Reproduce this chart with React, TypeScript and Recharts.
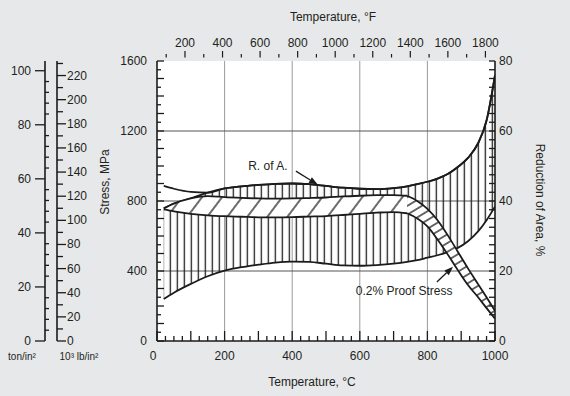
import React from "react";
import {
  ComposedChart, Area, Line, XAxis, YAxis, CartesianGrid, ReferenceLine, ReferenceDot,
} from "recharts";

// temperature, °C
const temps = [20, 50, 100, 150, 200, 250, 300, 350, 400, 450, 500, 550, 600, 650, 700, 740, 770, 800, 830, 860, 890, 920, 950, 975, 1000];
// 0.2% proof stress band, MPa
const proofHigh = [758, 785, 815, 828, 822, 818, 815, 814, 815, 817, 820, 826, 830, 833, 834, 830, 800, 755, 690, 605, 510, 415, 325, 250, 172];
const proofLow = [752, 741, 727, 718, 713, 710, 707, 707, 708, 711, 714, 720, 727, 733, 737, 730, 700, 655, 580, 495, 405, 320, 250, 188, 128];
// reduction of area band, %
const roaHigh = [44.3, 43.5, 42.6, 42.4, 43.6, 44.2, 44.6, 44.9, 45.0, 44.8, 44.3, 43.8, 43.5, 43.4, 43.7, 44.2, 44.8, 45.5, 46.4, 47.7, 49.7, 52.3, 56.5, 63.0, 76.0];
const roaLow = [12.0, 13.8, 16.3, 18.5, 20.1, 21.1, 21.8, 22.4, 22.7, 22.6, 22.1, 21.6, 21.5, 21.7, 22.1, 22.6, 23.1, 23.8, 24.5, 25.4, 26.6, 28.5, 31.3, 34.5, 38.4];

const LADDER_FROM = 740; // proof band hatching switches here
const ROA_CROSS = 150; // below this the R. of A. hatching stops at the proof band

const cLabels = [0, 200, 400, 600, 800, 1000];
const fLabels = [200, 400, 600, 800, 1000, 1200, 1400, 1600, 1800];
const mpaLabels = [0, 400, 800, 1200, 1600];
const pctLabels = [0, 20, 40, 60, 80];
const tonLabels = [0, 20, 40, 60, 80, 100];
const ksiLabels = [0, 20, 40, 60, 80, 100, 120, 140, 160, 180, 200, 220];

const cTicks = Array.from({ length: 41 }, (_, i) => i * 25);
const fTicks = Array.from({ length: 18 }, (_, i) => (i + 1) * 100);
const mpaTicks = Array.from({ length: 33 }, (_, i) => i * 50);
const pctTicks = Array.from({ length: 33 }, (_, i) => i * 2.5);
const tonTicks = Array.from({ length: 26 }, (_, i) => i * 4);
const ksiTicks = Array.from({ length: 24 }, (_, i) => i * 10);

const MPA_PER_PCT = 20; // 1600 MPa <-> 80 %
const MPA_PER_TSI = 15.444;
const MPA_PER_KSI = 6.895;

const data = temps.map((t, i) => ({
  t,
  f: (t * 9) / 5 + 32,
  roa: [roaLow[i], t < ROA_CROSS ? proofHigh[i] / MPA_PER_PCT : roaHigh[i]],
  roaLine: roaHigh[i],
  proofA: t <= LADDER_FROM ? [proofLow[i], proofHigh[i]] : null,
  proofB: t >= LADDER_FROM ? [proofLow[i], proofHigh[i]] : null,
}));

const INK = "#1b1b1b";
const FONT = '"Liberation Sans", Arial, sans-serif';
const txt = { fontFamily: FONT, fontSize: 12, fill: "#231f20" };

function CTick({ x, y, payload }: any) {
  const v = payload.value;
  const len = v % 100 === 0 ? 10 : 5;
  return (
    <g>
      <line x1={x} x2={x} y1={y} y2={y - len} stroke={INK} strokeWidth={1.3} />
      {cLabels.includes(v) && (
        <text x={v === 0 ? x - 4 : x} y={y + 18.5} textAnchor="middle" {...txt}>{v}</text>
      )}
    </g>
  );
}

function CTopTick({ x, y, payload }: any) {
  const len = payload.value % 100 === 0 ? 10 : 5;
  return <line x1={x} x2={x} y1={y} y2={y + len} stroke={INK} strokeWidth={1.3} />;
}

function FTick({ x, y, payload }: any) {
  const v = payload.value;
  const major = fLabels.includes(v);
  return (
    <g>
      <line x1={x} x2={x} y1={y - 3.5} y2={y - (major ? 10 : 7)} stroke={INK} strokeWidth={1.2} />
      {major && <text x={x} y={y - 14} textAnchor="middle" {...txt}>{v}</text>}
    </g>
  );
}

function MpaTick({ x, y, payload }: any) {
  const v = payload.value;
  const len = v % 100 === 0 ? 7 : 4;
  return (
    <g>
      <line x1={x} x2={x + len} y1={y} y2={y} stroke={INK} strokeWidth={1.3} />
      {mpaLabels.includes(v) && (
        <text x={x - 10} y={y} textAnchor="end" dominantBaseline="central" {...txt}>{v}</text>
      )}
    </g>
  );
}

function PctTick({ x, y, payload }: any) {
  const v = payload.value;
  return (
    <g>
      <line x1={x} x2={x - 6} y1={y} y2={y} stroke={INK} strokeWidth={1.3} />
      {pctLabels.includes(v) && (
        <text x={x + 4} y={y} textAnchor="start" dominantBaseline="central" {...txt}>{v}</text>
      )}
    </g>
  );
}

function TonTick({ x, y, payload }: any) {
  const v = payload.value;
  if (tonLabels.includes(v)) {
    return (
      <g>
        <line x1={x - 10} x2={x} y1={y} y2={y} stroke={INK} strokeWidth={1.3} />
        <text x={x - 14} y={y} textAnchor="end" dominantBaseline="central" {...txt}>{v}</text>
      </g>
    );
  }
  return <line x1={x} x2={x + 4} y1={y} y2={y} stroke={INK} strokeWidth={1.3} />;
}

function KsiTick({ x, y, payload }: any) {
  const v = payload.value;
  const major = ksiLabels.includes(v);
  return (
    <g>
      <line x1={x} x2={x + (major ? 9 : 6)} y1={y} y2={y} stroke={INK} strokeWidth={1.3} />
      {major && (
        <text x={x + 10} y={y} textAnchor="start" dominantBaseline="central" {...txt}>{v}</text>
      )}
    </g>
  );
}

function Arrow({ x1, y1, x2, y2 }: any) {
  const a = Math.atan2(y2 - y1, x2 - x1);
  const L = 9, W = 3.2;
  const bx = x2 - L * Math.cos(a), by = y2 - L * Math.sin(a);
  const px = -Math.sin(a) * W, py = Math.cos(a) * W;
  return (
    <g>
      <line x1={x1} y1={y1} x2={bx} y2={by} stroke={INK} strokeWidth={1.3} />
      <polygon points={`${x2},${y2} ${bx + px},${by + py} ${bx - px},${by - py}`} fill={INK} />
    </g>
  );
}

const roaNote = { x: 328, y: 1000, from: { x: 411, y: 971 }, to: { x: 476, y: 893 } };
const proofNote = { x: 731, y: 286, from: { x: 828, y: 337 }, to: { x: 876, y: 425 } };

export default function App() {
  return (
    <div style={{ width: 570, height: 396 }}>
      <style>{`body{margin:0;background:#e7e8ea}`}</style>
      <ComposedChart width={570} height={396} data={data} margin={{ top: 0, right: 0, bottom: 0, left: 0 }}>
        <defs>
          <pattern id="vhatch" patternUnits="userSpaceOnUse" x={5.8} width={7} height={10}>
            <line x1={3.5} x2={3.5} y1={0} y2={10} stroke={INK} strokeWidth={1.3} />
          </pattern>
          <pattern id="dhatch" patternUnits="userSpaceOnUse" width={16} height={16} patternTransform="rotate(37)">
            <rect width={16} height={16} fill="#fff" />
            <line x1={8} x2={8} y1={0} y2={16} stroke={INK} strokeWidth={1.3} />
          </pattern>
          <pattern id="ladder" patternUnits="userSpaceOnUse" width={7.5} height={10} patternTransform="rotate(59)">
            <rect width={7.5} height={10} fill="#fff" />
            <line x1={3.75} x2={3.75} y1={0} y2={10} stroke={INK} strokeWidth={1.3} />
          </pattern>
        </defs>

        <XAxis
          xAxisId="c" dataKey="t" type="number" domain={[0, 1000]} allowDataOverflow
          ticks={cTicks} interval={0} height={55} tickSize={0} tickMargin={0}
          axisLine={{ stroke: INK, strokeWidth: 1.6 }} tickLine={false} tick={CTick}
          label={{
            content: (p: any) => (
              <text x={p.viewBox.x + p.viewBox.width / 2 - 14} y={p.viewBox.y + 45} textAnchor="middle" {...txt}>
                Temperature, °C
              </text>
            ),
          }}
        />
        <XAxis
          xAxisId="ct" dataKey="t" orientation="top" type="number" domain={[0, 1000]} allowDataOverflow
          ticks={cTicks} interval={0} height={0} tickSize={0} tickMargin={0}
          axisLine={{ stroke: INK, strokeWidth: 1.6 }} tickLine={false} tick={CTopTick}
        />
        <XAxis
          xAxisId="f" dataKey="f" orientation="top" type="number" domain={[51, 1851]} allowDataOverflow
          ticks={fTicks} interval={0} height={61} tickSize={0} tickMargin={0}
          axisLine={false} tickLine={false} tick={FTick}
          label={{
            content: (p: any) => (
              <text x={p.viewBox.x + p.viewBox.width / 2 + 7} y={21} textAnchor="middle" {...txt}>
                Temperature, °F
              </text>
            ),
          }}
        />

        <YAxis
          yAxisId="y1mpa" type="number" domain={[0, 1600]} allowDataOverflow
          ticks={mpaTicks} interval={0} width={100} tickSize={0} tickMargin={0}
          axisLine={{ stroke: INK, strokeWidth: 1.6 }} tickLine={false} tick={MpaTick}
          label={{
            content: () => (
              <text x={105} y={182} transform="rotate(-90,105,182)" textAnchor="middle" dominantBaseline="central" {...txt}>
                Stress, MPa
              </text>
            ),
          }}
        />
        <YAxis
          yAxisId="y2ksi" type="number" domain={[0, 1600 / MPA_PER_KSI]} allowDataOverflow
          ticks={ksiTicks} interval={0} width={12} tickSize={0} tickMargin={0}
          axisLine={{ stroke: INK, strokeWidth: 1.6 }} tickLine={false} tick={KsiTick}
          label={{
            content: () => (
              <text x={79} y={356} textAnchor="middle" dominantBaseline="central" {...txt} fontSize={10}>
                10³ lb/in²
              </text>
            ),
          }}
        />
        <YAxis
          yAxisId="y3ton" type="number" domain={[0, 1600 / MPA_PER_TSI]} allowDataOverflow
          ticks={tonTicks} interval={0} width={45} tickSize={0} tickMargin={0}
          axisLine={{ stroke: INK, strokeWidth: 1.6 }} tickLine={false} tick={TonTick}
          label={{
            content: () => (
              <text x={22} y={356} textAnchor="middle" dominantBaseline="central" {...txt} fontSize={10}>
                ton/in²
              </text>
            ),
          }}
        />
        <YAxis
          yAxisId="pct" orientation="right" type="number" domain={[0, 80]} allowDataOverflow
          ticks={pctTicks} interval={0} width={75} tickSize={0} tickMargin={0}
          axisLine={{ stroke: INK, strokeWidth: 1.6 }} tickLine={false} tick={PctTick}
          label={{
            content: () => (
              <text x={540} y={200} transform="rotate(90,540,200)" textAnchor="middle" dominantBaseline="central" {...txt}>
                Reduction of Area, %
              </text>
            ),
          }}
        />

        <CartesianGrid xAxisId="c" yAxisId="y1mpa" fill="#fff" horizontal={false}
          verticalValues={[200, 400, 600, 800]} stroke="#9a9a9a" strokeWidth={1} />
        <CartesianGrid xAxisId="c" yAxisId="y1mpa" vertical={false}
          horizontalValues={[400, 800, 1200]} stroke="#555" strokeWidth={1} />

        <Area xAxisId="c" yAxisId="pct" dataKey="roa" type="monotone" stroke={INK} strokeWidth={1.8}
          fill="url(#vhatch)" fillOpacity={1} isAnimationActive={false} />
        <Area xAxisId="c" yAxisId="y1mpa" dataKey="proofA" type="monotone" stroke={INK} strokeWidth={1.8}
          fill="url(#dhatch)" fillOpacity={1} isAnimationActive={false} />
        <Area xAxisId="c" yAxisId="y1mpa" dataKey="proofB" type="monotone" stroke={INK} strokeWidth={1.8}
          fill="url(#ladder)" fillOpacity={1} isAnimationActive={false} />
        <Line xAxisId="c" yAxisId="pct" dataKey="roaLine" type="monotone" stroke={INK} strokeWidth={1.8}
          dot={false} activeDot={false} isAnimationActive={false} />

        <ReferenceLine xAxisId="c" yAxisId="y1mpa" segment={[roaNote.from, roaNote.to]} shape={Arrow} />
        <ReferenceDot xAxisId="c" yAxisId="y1mpa" x={roaNote.x} y={roaNote.y} r={0}
          label={{ value: "R. of A.", position: "center", ...txt }} />
        <ReferenceLine xAxisId="c" yAxisId="y1mpa" segment={[proofNote.from, proofNote.to]} shape={Arrow} />
        <ReferenceDot xAxisId="c" yAxisId="y1mpa" x={proofNote.x} y={proofNote.y} r={0}
          label={{ value: "0.2% Proof Stress", position: "center", ...txt }} />
      </ComposedChart>
    </div>
  );
}
